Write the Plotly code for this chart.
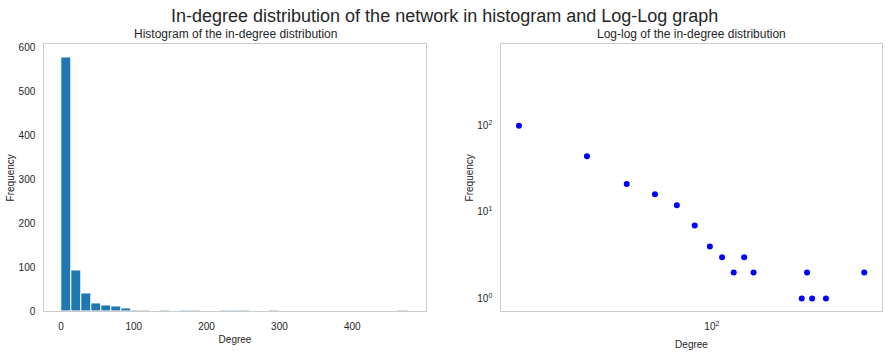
import plotly.graph_objects as go

# Histogram data (35 bins from degree 1 to 477)
bin_start = 1.0
bin_width = 13.6
hist_counts = [578, 92, 40, 18, 13, 11, 5, 2, 2, 0, 2, 0, 1, 1, 0, 0, 1, 1, 1, 0,
               0, 1, 0, 0, 0, 0, 0, 0, 0, 0, 0, 0, 0, 0, 1]

# Log-log data
loglog_degree = [14, 28, 42, 56, 70, 84, 98, 111, 125, 139, 153, 250, 264, 278, 320, 473]
loglog_freq = [99, 44, 21, 16, 12, 7, 4, 3, 2, 3, 2, 1, 2, 1, 1, 2]

hist_centers = [bin_start + bin_width * (i + 0.5) for i in range(len(hist_counts))]
hist_draw = [c if c > 0 else None for c in hist_counts]

txt = "#262626"
spine = "#cccccc"
font = "Liberation Sans, Arial, sans-serif"

fig = go.Figure()
fig.add_trace(go.Bar(x=hist_centers, y=hist_draw, width=bin_width,
                     marker=dict(color="#1f77b4", line=dict(color="white", width=1)),
                     xaxis="x", yaxis="y", showlegend=False))
fig.add_trace(go.Scatter(x=loglog_degree, y=loglog_freq, mode="markers",
                         marker=dict(color="#0000ff", size=6),
                         xaxis="x2", yaxis="y2", showlegend=False))

W, H = 888, 358
ydom = [1 - 315.3 / H, 1 - 43.3 / H]
common = dict(showgrid=False, zeroline=False, showline=True, mirror=True,
              linecolor=spine, linewidth=1, ticks="", tickfont=dict(size=10, color=txt),
              ticklabelstandoff=6)

fig.update_layout(
    width=W, height=H, margin=dict(l=0, r=0, t=0, b=0),
    paper_bgcolor="white", plot_bgcolor="white",
    font=dict(family=font, color=txt),
    bargap=0,
    xaxis=dict(domain=[44.3 / W, 425.7 / W], range=[-22.8, 500.8],
               tickvals=[0, 100, 200, 300, 400], anchor="y",
               title=dict(text="Degree", font=dict(size=10, color=txt), standoff=4), **common),
    yaxis=dict(domain=ydom, range=[0, 607], tickvals=[0, 100, 200, 300, 400, 500, 600],
               anchor="x",
               title=dict(text="Frequency", font=dict(size=10, color=txt), standoff=2), **common),
    xaxis2=dict(domain=[501.3 / W, 881.7 / W], type="log", range=[1.068, 2.752],
                tickvals=[100], ticktext=["10<sup>2</sup>"], anchor="y2",
                title=dict(text="Degree", font=dict(size=10, color=txt), standoff=9), **common),
    yaxis2=dict(domain=ydom, type="log", range=[-0.145, 2.935],
                tickvals=[1, 10, 100],
                ticktext=["10<sup>0</sup>", "10<sup>1</sup>", "10<sup>2</sup>"], anchor="x2",
                title=dict(text="Frequency", font=dict(size=10, color=txt), standoff=1), **common),
    annotations=[
        dict(text="In-degree distribution of the network in histogram and Log-Log graph",
             x=0.5, y=1 - 14 / H, xref="paper", yref="paper", showarrow=False,
             font=dict(size=18, color=txt), xanchor="center", yanchor="middle"),
        dict(text="Histogram of the in-degree distribution",
             x=(44.3 + 425.7) / 2 / W, y=1 - 33 / H, xref="paper", yref="paper", showarrow=False,
             font=dict(size=12, color=txt), xanchor="center", yanchor="middle"),
        dict(text="Log-log of the in-degree distribution",
             x=(501.3 + 881.7) / 2 / W, y=1 - 33 / H, xref="paper", yref="paper", showarrow=False,
             font=dict(size=12, color=txt), xanchor="center", yanchor="middle"),
    ],
)

fig.write_html("out.html")
